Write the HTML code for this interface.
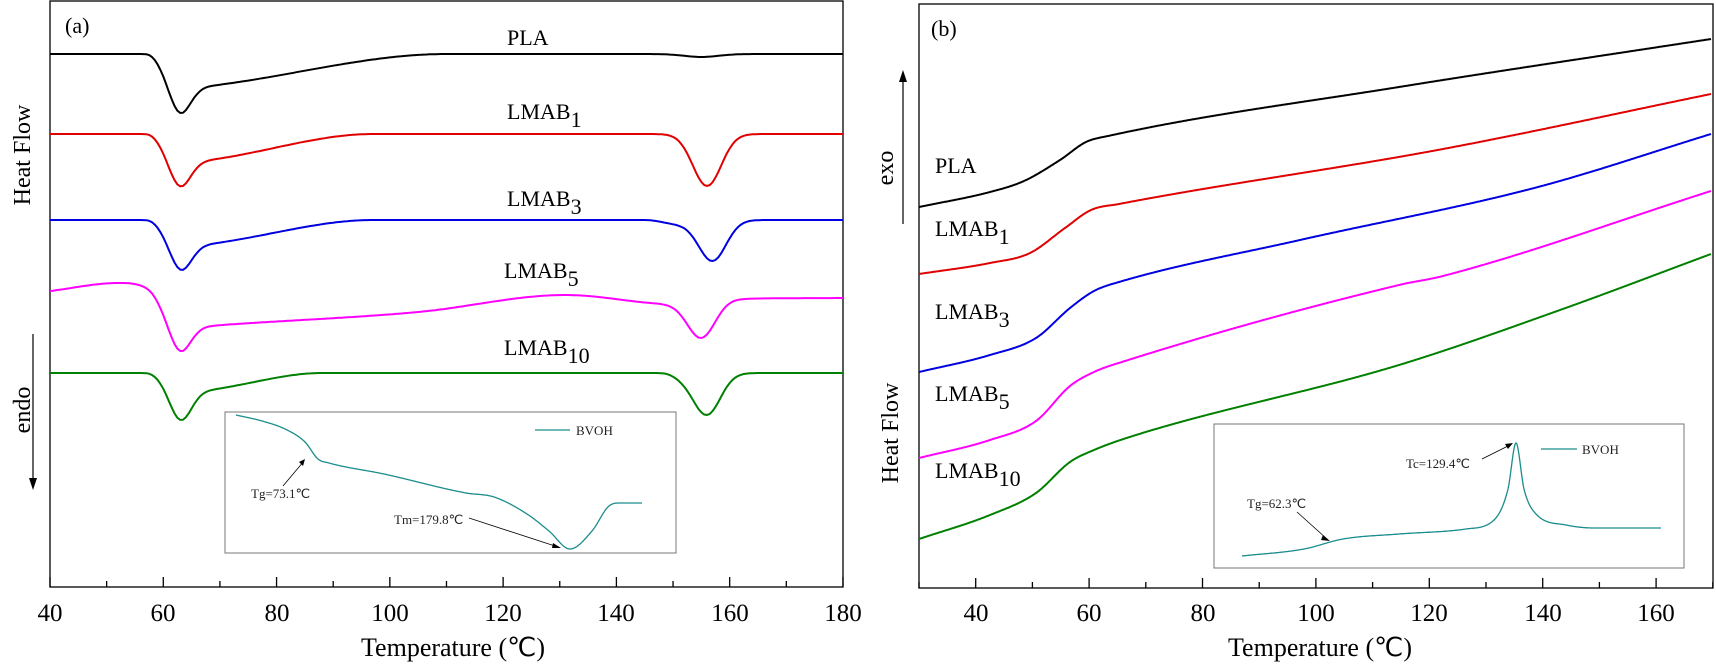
<!DOCTYPE html>
<html><head><meta charset="utf-8">
<style>
html,body{margin:0;padding:0;background:#fff;}
svg{display:block;font-family:"Liberation Serif",serif;}
</style></head>
<body>
<svg id="s" width="1716" height="666" viewBox="0 0 1716 666" xmlns="http://www.w3.org/2000/svg">
<g fill="none" stroke="#000" stroke-width="1.3">
<rect x="50" y="1" width="793" height="586"/>
<rect x="919" y="4" width="794" height="584"/>
</g>
<g id="ticks" stroke="#000" stroke-width="1.3"></g>
<g font-size="25" text-anchor="middle" fill="#000">
<text x="50" y="621">40</text><text x="163" y="621">60</text><text x="277" y="621">80</text>
<text x="390" y="621">100</text><text x="503" y="621">120</text><text x="616" y="621">140</text>
<text x="730" y="621">160</text><text x="843" y="621">180</text>
<text x="976" y="621">40</text><text x="1089" y="621">60</text><text x="1203" y="621">80</text>
<text x="1316" y="621">100</text><text x="1429" y="621">120</text><text x="1543" y="621">140</text>
<text x="1656" y="621">160</text>
</g>
<g font-size="26" text-anchor="middle">
<text x="453" y="656">Temperature (℃)</text>
<text x="1320" y="656">Temperature (℃)</text>
</g>
<g font-size="22">
<text x="65" y="33" >(a)</text>
<text x="931" y="36">(b)</text>
<text transform="translate(30,155) rotate(-90)" text-anchor="middle" font-size="24">Heat Flow</text>
<text transform="translate(30,410) rotate(-90)" text-anchor="middle" font-size="24">endo</text>
<text transform="translate(893,168) rotate(-90)" text-anchor="middle" font-size="24">exo</text>
<text transform="translate(898,433) rotate(-90)" text-anchor="middle" font-size="24">Heat Flow</text>
<text x="507" y="45">PLA</text>
<text x="507" y="119">LMAB<tspan dy="8">1</tspan></text>
<text x="507" y="206">LMAB<tspan dy="8">3</tspan></text>
<text x="504" y="278">LMAB<tspan dy="8">5</tspan></text>
<text x="504" y="355">LMAB<tspan dy="8">10</tspan></text>
<text x="935" y="173">PLA</text>
<text x="935" y="236">LMAB<tspan dy="8">1</tspan></text>
<text x="935" y="319">LMAB<tspan dy="8">3</tspan></text>
<text x="935" y="401">LMAB<tspan dy="8">5</tspan></text>
<text x="935" y="478">LMAB<tspan dy="8">10</tspan></text>
</g>
<g stroke="#000" stroke-width="1.2">
<line x1="33" y1="334" x2="33" y2="480"/>
<line x1="903" y1="224" x2="903" y2="80"/>
</g>
<polygon points="29,478 37,478 33,490" fill="#000"/>
<polygon points="899,82 907,82 903,70" fill="#000"/>
<g id="curves" fill="none" stroke-width="2"></g>
<rect x="225" y="412" width="451" height="141" fill="#fff" stroke="#777" stroke-width="1"/>
<rect x="1214" y="424" width="470" height="144" fill="#fff" stroke="#777" stroke-width="1"/>
<g id="insets" fill="none" stroke="#1a8c8c" stroke-width="1.3"></g>
<g stroke="#1a8c8c" stroke-width="1.3"><line x1="535" y1="430" x2="570" y2="430"/><line x1="1541" y1="449" x2="1577" y2="449"/></g>
<g font-size="13" fill="#222">
<text x="576" y="435">BVOH</text><text x="1582" y="454">BVOH</text>
<text x="251" y="498">Tg=73.1℃</text>
<text x="394" y="524">Tm=179.8℃</text>
<text x="1406" y="468">Tc=129.4℃</text>
<text x="1247" y="508">Tg=62.3℃</text>
</g>
<g stroke="#000" stroke-width="0.8">
<line x1="283" y1="486" x2="304" y2="461"/>
<line x1="469" y1="518" x2="558" y2="547"/>
<line x1="1482" y1="459" x2="1510" y2="445"/>
<line x1="1297" y1="512" x2="1327" y2="539"/>
</g>
<g fill="#000">
<polygon points="305,459 299,462 303,466"/>
<polygon points="561,548 553,543 552,548"/>
<polygon points="1513,443 1505,444 1508,449"/>
<polygon points="1330,541 1323,535 1321,540"/>
</g>
</svg>
<script>
var NS="http://www.w3.org/2000/svg";
function add(g,d,c){var e=document.createElementNS(NS,"path");e.setAttribute("d",d);if(c)e.setAttribute("stroke",c);document.getElementById(g).appendChild(e);}
// monotone cubic interpolation (Fritsch-Carlson)
function mono(p){var n=p.length,d=[],m=[];for(var i=0;i<n-1;i++)d.push((p[i+1][1]-p[i][1])/(p[i+1][0]-p[i][0]));m[0]=d[0];m[n-1]=d[n-2];for(var i=1;i<n-1;i++){m[i]=(d[i-1]*d[i]<=0)?0:(d[i-1]+d[i])/2;}
for(var i=0;i<n-1;i++){if(d[i]==0){m[i]=0;m[i+1]=0;continue;}var a=m[i]/d[i],b=m[i+1]/d[i],s=a*a+b*b;if(s>9){var t=3/Math.sqrt(s);m[i]=t*a*d[i];m[i+1]=t*b*d[i];}}
return function(x){for(var i=0;i<n-1;i++){if(x<=p[i+1][0]||i==n-2){var h=p[i+1][0]-p[i][0],t=(x-p[i][0])/h,t2=t*t,t3=t2*t;return (2*t3-3*t2+1)*p[i][1]+(t3-2*t2+t)*h*m[i]+(-2*t3+3*t2)*p[i+1][1]+(t3-t2)*h*m[i+1];}}};}
function curve(p,step){var f=mono(p),o=[];for(var x=p[0][0];x<=p[p.length-1][0]+1e-6;x+=step)o.push(x.toFixed(1)+","+f(x).toFixed(1));return "M"+o.join(" L");}
function g(T,m,s){return Math.exp(-(T-m)*(T-m)/(2*s*s));}
var left=[
["#000",[[40,54],[57,54],[64,88],[68,86],[110,54],[180,54]],[62.8,27,1.9],[155,3,3]],
["#e00000",[[40,134],[57,134],[64,162],[68,160],[97,134],[180,134]],[62.8,26,1.9],[156,52,2.5]],
["#0000e0",[[40,220],[57,220],[64,246],[68,244],[97,220],[145,220],[151,224],[160,220],[180,220]],[63,25,1.9],[157,40,2.4]],
["#ff00ff",[[40,291],[52,283],[57,288],[64,328],[68,326],[105,312],[131,295],[150,304],[161,299],[180,298]],[62.8,25,1.9],[155,36,2.4]],
["#008000",[[40,373],[57,373],[64,392],[68,390],[88,373],[148,373],[152,377],[160,373],[180,373]],[63,29,1.9],[156,40,2.4]]];
left.forEach(function(c){var f=mono(c[1]),p=[];for(var T=40;T<=180;T+=0.5){var y=f(T)+c[2][1]*g(T,c[2][0],c[2][2])+c[3][1]*g(T,c[3][0],c[3][2]);p.push((50+(T-40)*5.664).toFixed(1)+","+y.toFixed(1));}add("curves","M"+p.join(" L"),c[0]);});
var right=[
["#000",[[919,207],[990,192],[1024,181],[1060,160],[1086,142],[1108,136],[1399,87],[1711,39]]],
["#e00000",[[919,274],[990,263],[1030,253],[1065,228],[1091,210],[1119,204],[1443,149],[1711,94]]],
["#0000e0",[[919,372],[990,355],[1036,338],[1070,308],[1094,291],[1119,282],[1300,240],[1538,187],[1711,134]]],
["#ff00ff",[[919,458],[990,440],[1036,421],[1070,386],[1094,372],[1125,361],[1399,285],[1443,276],[1711,191]]],
["#008000",[[919,539],[990,515],[1036,493],[1070,462],[1094,450],[1136,435],[1399,365],[1560,310],[1711,254]]]];
right.forEach(function(c){add("curves",curve(c[1],1),c[0]);});
add("insets",curve([[236,415],[262,421],[285,429],[305,442],[318,459],[329,463],[384,474],[466,493],[494,497],[527,514],[549,531],[570,549],[592,531],[609,506],[620,503],[642,503]],0.5));
add("insets",curve([[1242,556],[1304,549],[1343,539],[1399,534],[1466,529],[1494,520],[1508,489],[1516,443],[1524,489],[1536,514],[1566,525],[1594,528],[1661,528]],0.5));
var tk=document.getElementById("ticks"),h="";
for(var T=40;T<=180;T+=10){var x=50+(T-40)*5.664,L=(T%20==0)?10:6;h+='<line x1="'+x+'" y1="587" x2="'+x+'" y2="'+(587-L)+'"/>';}
for(var T=30;T<=170;T+=10){var x=919+(T-30)*5.67,L=(T%20==0)?10:6;h+='<line x1="'+x+'" y1="588" x2="'+x+'" y2="'+(588-L)+'"/>';}
tk.innerHTML=h;
</script>
</body></html>
